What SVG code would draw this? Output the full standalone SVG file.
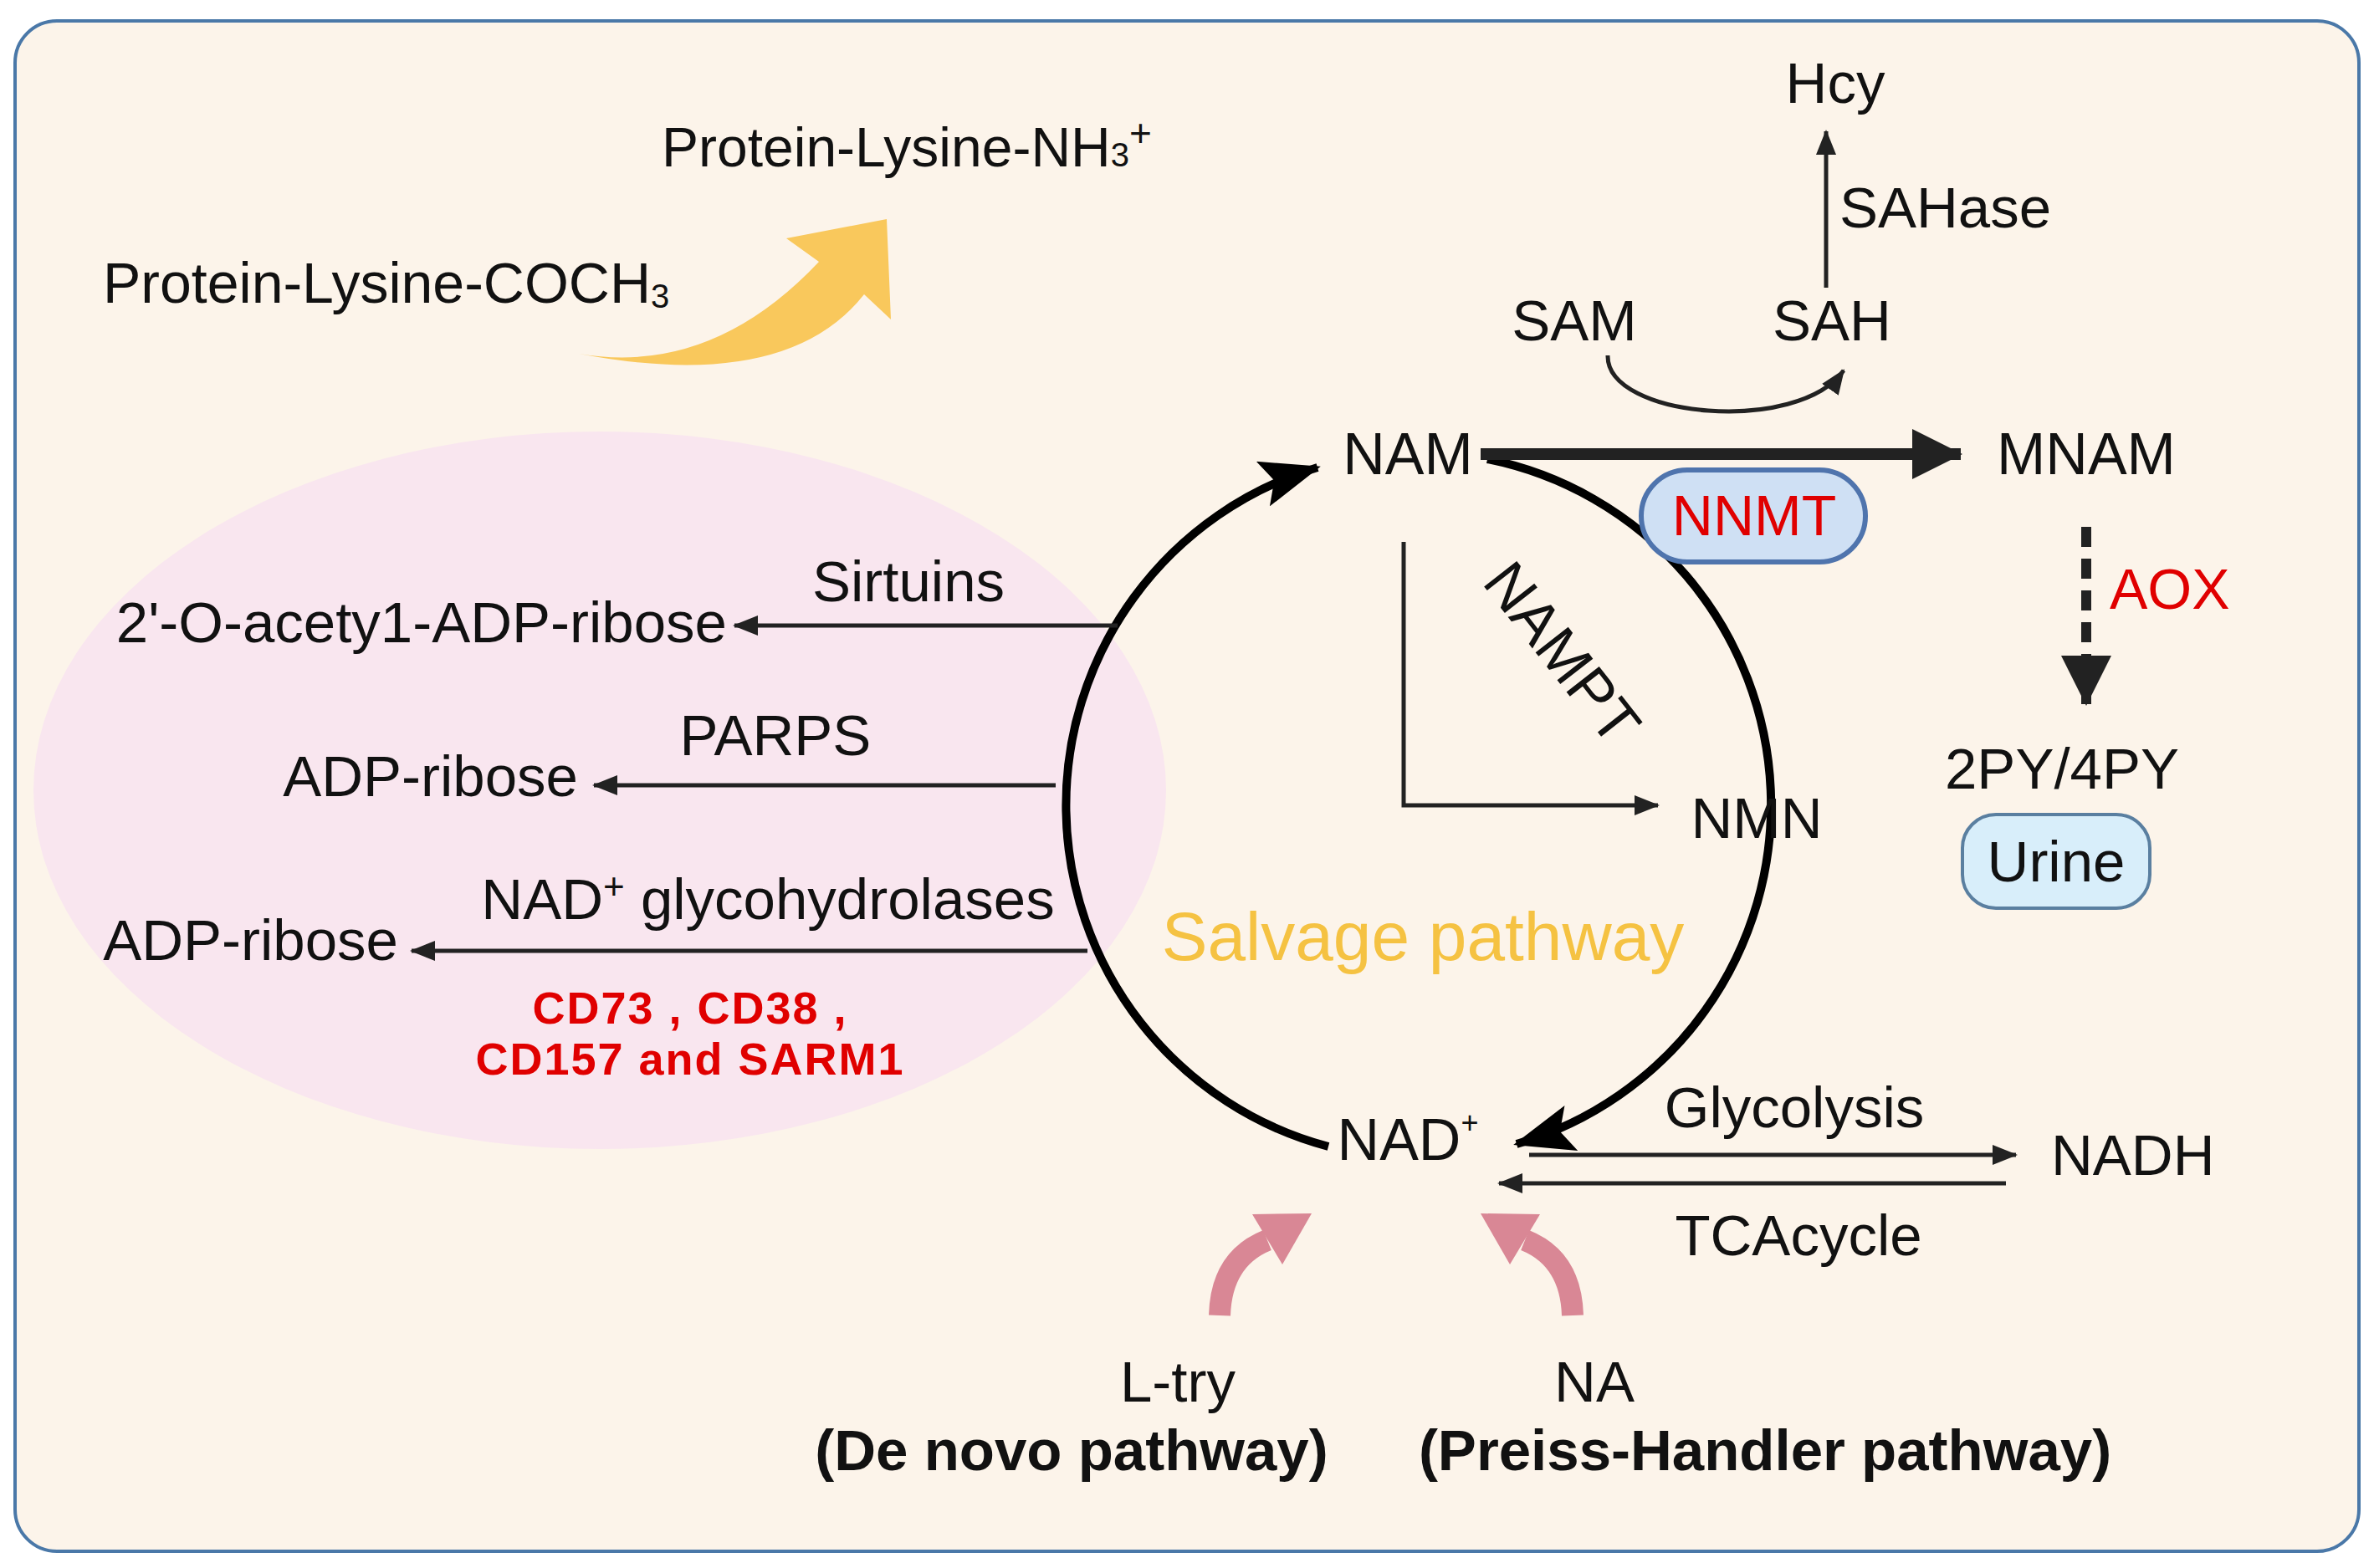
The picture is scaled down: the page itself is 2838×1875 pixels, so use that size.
<svg xmlns="http://www.w3.org/2000/svg" width="2838" height="1875" viewBox="0 0 2838 1875">
<defs>
<style>
svg{font-size:69px}
text{font-family:"Liberation Sans",Arial,sans-serif;fill:#111}
.c{text-anchor:middle}
.r{text-anchor:end}
.red{fill:#e00000}
.b{font-weight:bold}
.ln{stroke:#222;stroke-width:5;fill:none}
.pk{stroke:#d98795;stroke-width:26;fill:none}
</style>
<marker id="ah" markerUnits="userSpaceOnUse" markerWidth="30" markerHeight="24" refX="28" refY="12" orient="auto"><path d="M0,0 L30,12 L0,24 Z" fill="#222"/></marker>
<marker id="big" markerUnits="userSpaceOnUse" markerWidth="60" markerHeight="60" refX="58" refY="30" orient="auto"><path d="M0,0 L60,30 L0,60 Z" fill="#222"/></marker>
<marker id="circ" markerUnits="userSpaceOnUse" markerWidth="72" markerHeight="56" refX="68" refY="28" orient="auto"><path d="M0,0 L72,28 L0,56 L14,28 Z" fill="#000"/></marker>
</defs>
<rect x="18" y="25" width="2802" height="1830" rx="50" fill="#fcf4ea" stroke="#4a78a8" stroke-width="4"/>
<ellipse cx="717" cy="945" rx="677" ry="429" fill="#f9e6ef"/>
<g id="yellow-arrow"><path d="M692,423 Q850,450 979,313 L940,285 L1060,262 L1065,382 L1033,352 Q940,470 692,423 Z" fill="#f9c85c"/></g>
<g id="connectors">
<path d="M1588,1371 A422,422 0 0 1 1575,559" stroke="#000" stroke-width="10" fill="none" marker-end="url(#circ)"/>
<path d="M1778,549 A422,422 0 0 1 1813,1368" stroke="#000" stroke-width="10" fill="none" marker-end="url(#circ)"/>
<line x1="1770" y1="543" x2="2344" y2="543" stroke="#222" stroke-width="14" marker-end="url(#big)"/>
<line x1="2494" y1="630" x2="2494" y2="842" stroke="#222" stroke-width="12" stroke-dasharray="24,14" marker-end="url(#big)"/>
<line class="ln" x1="2183" y1="344" x2="2183" y2="157" marker-end="url(#ah)"/>
<path class="ln" d="M1922,425 C1920,500 2150,520 2204,443" marker-end="url(#ah)"/>
<path class="ln" d="M1678,648 L1678,963 L1982,963" marker-end="url(#ah)"/>
<line class="ln" x1="1336" y1="748" x2="878" y2="748" marker-end="url(#ah)"/>
<line class="ln" x1="1262" y1="939" x2="710" y2="939" marker-end="url(#ah)"/>
<line class="ln" x1="1300" y1="1137" x2="492" y2="1137" marker-end="url(#ah)"/>
<line class="ln" x1="1828" y1="1381" x2="2410" y2="1381" marker-end="url(#ah)"/>
<line class="ln" x1="2398" y1="1415" x2="1792" y2="1415" marker-end="url(#ah)"/>
<path class="pk" d="M1458,1573 Q1460,1505 1515,1483"/>
<polygon points="1568,1451 1533,1512 1497,1452" fill="#d98795"/>
<path class="pk" d="M1880,1573 Q1878,1505 1823,1483"/>
<polygon points="1770,1451 1805,1512 1841,1452" fill="#d98795"/>
</g>
<g id="n-lys-nh3"><text x="791" y="199" font-size="66">Protein-Lysine-NH<tspan font-size="40">3</tspan><tspan font-size="46" dy="-24">+</tspan></text></g>
<g id="n-lys-coch3"><text x="123" y="362" font-size="68">Protein-Lysine-COCH<tspan font-size="40" dy="6">3</tspan></text></g>
<g id="n-hcy"><text class="c" x="2194" y="123">Hcy</text></g>
<g id="n-sahase"><text x="2199" y="272">SAHase</text></g>
<g id="n-sam"><text class="c" x="1882" y="407">SAM</text></g>
<g id="n-sah"><text class="c" x="2190" y="407">SAH</text></g>
<g id="n-nam"><text class="c" x="1683" y="567" font-size="70">NAM</text></g>
<g id="n-mnam"><text class="c" x="2494" y="567" font-size="70">MNAM</text></g>
<g id="n-nnmt"><rect x="1962" y="562" width="268" height="110" rx="55" fill="#cfe0f4" stroke="#4f74ad" stroke-width="6"/><text class="c red" x="2097" y="640" font-size="68">NNMT</text></g>
<g id="n-aox"><text class="red" x="2522" y="728" font-size="68">AOX</text></g>
<g id="n-2py"><text class="c" x="2465" y="943">2PY/4PY</text></g>
<g id="n-urine"><rect x="2346" y="974" width="224" height="112" rx="40" fill="#d8eefa" stroke="#5a7fa0" stroke-width="4"/><text class="c" x="2458" y="1054">Urine</text></g>
<g id="n-nampt"><text class="c" transform="translate(1848,796) rotate(52)" font-size="72">NAMPT</text></g>
<g id="n-nmn"><text class="c" x="2100" y="1002">NMN</text></g>
<g id="n-salvage"><text class="c" x="1701" y="1148" font-size="82" style="fill:#f5c242">Salvage pathway</text></g>
<g id="n-nad"><text class="c" x="1683" y="1387" font-size="70">NAD<tspan font-size="36" dy="-32">+</tspan></text></g>
<g id="n-glyc"><text class="c" x="2145" y="1348">Glycolysis</text></g>
<g id="n-tca"><text class="c" x="2150" y="1501">TCAcycle</text></g>
<g id="n-nadh"><text x="2452" y="1405">NADH</text></g>
<g id="n-ltry"><text class="c" x="1408" y="1676">L-try</text><text class="c b" x="1281" y="1758">(De novo pathway)</text></g>
<g id="n-na"><text class="c" x="1906" y="1676">NA</text><text class="c b" x="2110" y="1758">(Preiss-Handler pathway)</text></g>
<g id="n-sirt"><text class="c" x="1086" y="719">Sirtuins</text><text class="r" x="869" y="768">2'-O-acety1-ADP-ribose</text></g>
<g id="n-parps"><text class="c" x="927" y="903">PARPS</text><text class="r" x="691" y="952">ADP-ribose</text></g>
<g id="n-glyco"><text class="c" x="918" y="1099">NAD<tspan font-size="44" dy="-24">+</tspan><tspan dy="24"> glycohydrolases</tspan></text><text class="r" x="476" y="1148">ADP-ribose</text>
<text class="c red b" x="825" y="1224" font-size="54" letter-spacing="2">CD73 , CD38 ,</text><text class="c red b" x="825" y="1285" font-size="54" letter-spacing="2">CD157 and SARM1</text></g>
</svg>
